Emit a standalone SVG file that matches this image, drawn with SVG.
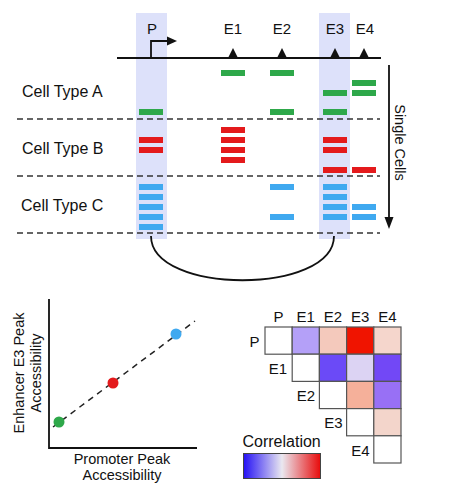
<svg xmlns="http://www.w3.org/2000/svg" width="469" height="492" viewBox="0 0 469 492">
<style>
text{font-family:"Liberation Sans",Arial,sans-serif;fill:#111}
.lbl{font-size:15px;text-anchor:middle}
.ax{font-size:14.5px;text-anchor:middle}
.ct{font-size:16px}
.hl{fill:#dde1fa}
.g{fill:#2ea84a}
.r{fill:#e41a1c}
.b{fill:#3fa9f0}
.dash{stroke:#333;stroke-width:1.5;stroke-dasharray:6,4;fill:none}
.ln{stroke:#111;stroke-width:1.8;fill:none}
.cell{stroke:#555;stroke-width:1.2}
.rl{font-size:15px;text-anchor:end}
</style>
<defs>
<linearGradient id="corr" x1="0" y1="0" x2="1" y2="0">
<stop offset="0" stop-color="#2410f5"/>
<stop offset="0.5" stop-color="#eae8f0"/>
<stop offset="1" stop-color="#e80a0a"/>
</linearGradient>
</defs>
<g id="highlights">
<rect class="hl" x="136" y="13" width="31" height="226"/>
<rect class="hl" x="319" y="13" width="31" height="226"/>
</g>
<g id="genome">
<line class="ln" x1="117" y1="58" x2="381" y2="58"/>
<path class="ln" d="M151,58 V41 H169"/>
<polygon points="177,41 167,36.5 167,45.5" fill="#111"/>
<polygon points="233,48 228,58 238,58" fill="#111"/>
<polygon points="282,48 277,58 287,58" fill="#111"/>
<polygon points="335,48 330,58 340,58" fill="#111"/>
<polygon points="364,48 359,58 369,58" fill="#111"/>
<text class="lbl" x="152" y="34">P</text>
<text class="lbl" x="233" y="34">E1</text>
<text class="lbl" x="282" y="34">E2</text>
<text class="lbl" x="335" y="34">E3</text>
<text class="lbl" x="365" y="34">E4</text>
</g>
<g id="cell-type-labels">
<text class="ct" x="22" y="97">Cell Type A</text>
<text class="ct" x="22" y="154">Cell Type B</text>
<text class="ct" x="21" y="211">Cell Type C</text>
</g>
<g id="dividers">
<line class="dash" x1="17" y1="119" x2="380" y2="119"/>
<line class="dash" x1="17" y1="176" x2="380" y2="176"/>
<line class="dash" x1="17" y1="233" x2="380" y2="233"/>
</g>
<g id="reads-A">
<rect class="g" x="221" y="70" width="24" height="6"/>
<rect class="g" x="270" y="70" width="24" height="6"/>
<rect class="g" x="352" y="80" width="24" height="6"/>
<rect class="g" x="323" y="90" width="24" height="6"/>
<rect class="g" x="352" y="90" width="24" height="6"/>
<rect class="g" x="139" y="109" width="24" height="6"/>
<rect class="g" x="270" y="109" width="24" height="6"/>
<rect class="g" x="323" y="109" width="24" height="6"/>
</g>
<g id="reads-B">
<rect class="r" x="221" y="127" width="24" height="6"/>
<rect class="r" x="221" y="137" width="24" height="6"/>
<rect class="r" x="221" y="147" width="24" height="6"/>
<rect class="r" x="221" y="157" width="24" height="6"/>
<rect class="r" x="139" y="137" width="24" height="6"/>
<rect class="r" x="139" y="147" width="24" height="6"/>
<rect class="r" x="323" y="137" width="24" height="6"/>
<rect class="r" x="323" y="147" width="24" height="6"/>
<rect class="r" x="323" y="167" width="24" height="6"/>
<rect class="r" x="352" y="167" width="24" height="6"/>
</g>
<g id="reads-C">
<rect class="b" x="139" y="184" width="24" height="6"/>
<rect class="b" x="139" y="194" width="24" height="6"/>
<rect class="b" x="139" y="204" width="24" height="6"/>
<rect class="b" x="139" y="214" width="24" height="6"/>
<rect class="b" x="139" y="224" width="24" height="6"/>
<rect class="b" x="270" y="184" width="24" height="6"/>
<rect class="b" x="270" y="214" width="24" height="6"/>
<rect class="b" x="323" y="184" width="24" height="6"/>
<rect class="b" x="323" y="194" width="24" height="6"/>
<rect class="b" x="323" y="204" width="24" height="6"/>
<rect class="b" x="323" y="214" width="24" height="6"/>
<rect class="b" x="352" y="204" width="24" height="6"/>
<rect class="b" x="352" y="214" width="24" height="6"/>
</g>
<g id="single-cells">
<line class="ln" x1="389" y1="65" x2="389" y2="218"/>
<polygon points="389,229 384.5,217 393.5,217" fill="#111"/>
<text transform="translate(394.5,142.5) rotate(90)" text-anchor="middle" font-size="14.5">Single Cells</text>
</g>
<g id="connectors">
<path class="ln" d="M151,236 C151,295 334,295 334,236"/>
</g>
<g id="scatter">
<path class="ln" d="M49,299 V448 H197" stroke-width="1.5"/>
<line x1="53" y1="427" x2="195" y2="321" stroke="#222" stroke-width="1.5" stroke-dasharray="6,5"/>
<circle cx="59" cy="422" r="5.5" fill="#2ea84a"/>
<circle cx="113" cy="383" r="5.5" fill="#e41a1c"/>
<circle cx="176" cy="334" r="5.5" fill="#3fa9f0"/>
<text class="ax" transform="translate(23.5,373) rotate(-90)">Enhancer E3 Peak</text>
<text class="ax" transform="translate(40.5,373) rotate(-90)">Accessibility</text>
<text class="ax" x="122" y="464">Promoter Peak</text>
<text class="ax" x="122" y="479.5">Accessibility</text>
</g>
<g id="matrix">
<rect class="cell" x="265" y="327" width="27.2" height="27.2" fill="#fff"/>
<rect class="cell" x="292.2" y="327" width="27.2" height="27.2" fill="#b4a0f8"/>
<rect class="cell" x="319.4" y="327" width="27.2" height="27.2" fill="#f4c9bc"/>
<rect class="cell" x="346.6" y="327" width="27.2" height="27.2" fill="#f01400"/>
<rect class="cell" x="373.8" y="327" width="27.2" height="27.2" fill="#f5d6cc"/>
<rect class="cell" x="292.2" y="354.2" width="27.2" height="27.2" fill="#fff"/>
<rect class="cell" x="319.4" y="354.2" width="27.2" height="27.2" fill="#6b4af7"/>
<rect class="cell" x="346.6" y="354.2" width="27.2" height="27.2" fill="#dcd3f3"/>
<rect class="cell" x="373.8" y="354.2" width="27.2" height="27.2" fill="#7248f6"/>
<rect class="cell" x="319.4" y="381.4" width="27.2" height="27.2" fill="#fff"/>
<rect class="cell" x="346.6" y="381.4" width="27.2" height="27.2" fill="#f5b09a"/>
<rect class="cell" x="373.8" y="381.4" width="27.2" height="27.2" fill="#9870f5"/>
<rect class="cell" x="346.6" y="408.6" width="27.2" height="27.2" fill="#fff"/>
<rect class="cell" x="373.8" y="408.6" width="27.2" height="27.2" fill="#f3d5cb"/>
<rect class="cell" x="373.8" y="435.8" width="27.2" height="27.2" fill="#fff"/>
<text class="lbl" x="278.6" y="322">P</text>
<text class="lbl" x="305.8" y="322">E1</text>
<text class="lbl" x="333" y="322">E2</text>
<text class="lbl" x="360.2" y="322">E3</text>
<text class="lbl" x="387.4" y="322">E4</text>
<text class="rl" x="259.5" y="346.5">P</text>
<text class="rl" x="287" y="373.5">E1</text>
<text class="rl" x="315" y="401">E2</text>
<text class="rl" x="342.5" y="428">E3</text>
<text class="rl" x="369.5" y="455.5">E4</text>
</g>
<g id="legend">
<text x="242.5" y="446.5" font-size="16">Correlation</text>
<rect x="243.5" y="453.5" width="77" height="25" fill="url(#corr)" stroke="#444" stroke-width="1"/>
</g>
</svg>
